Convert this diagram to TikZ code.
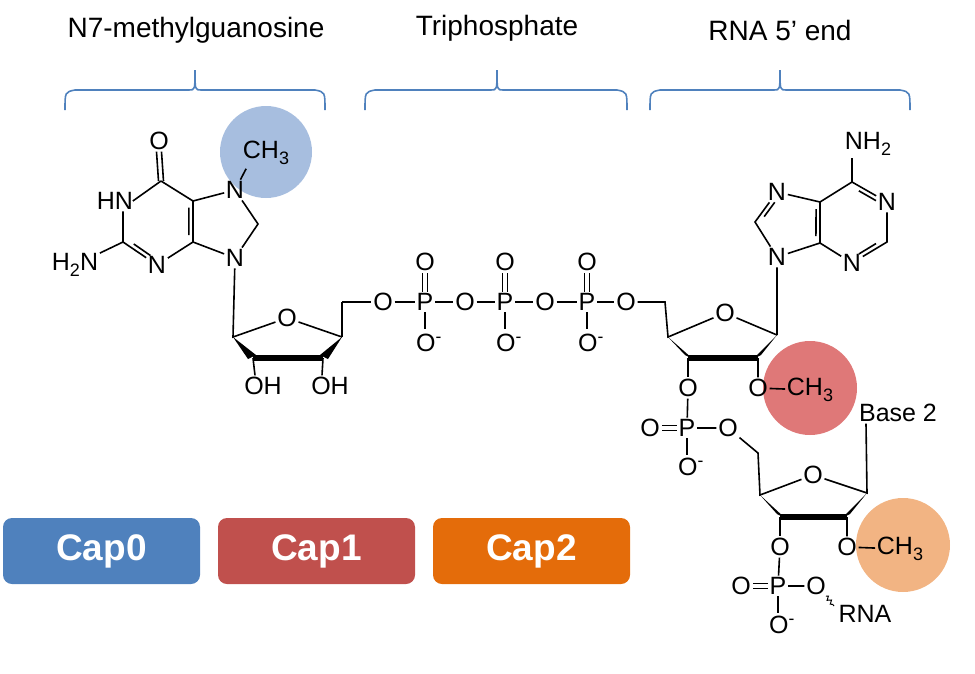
\documentclass[tikz,border=0pt]{standalone}
\usepackage{fontspec}
\setmainfont{Liberation Sans}
\usetikzlibrary{calc,decorations.pathmorphing}
\definecolor{capA}{HTML}{4F81BD}
\definecolor{capB}{HTML}{C0504D}
\definecolor{capC}{HTML}{E46C0A}
\definecolor{cirA}{HTML}{A7BEDF}
\definecolor{cirB}{HTML}{DF7878}
\definecolor{cirC}{HTML}{F2B483}
\definecolor{brc}{HTML}{4F81BD}
\newcommand{\dbl}[3]{\draw ($ ($(#1)!.22!(#2)$)!4.5pt!(#3) $) -- ($ ($(#1)!.78!(#2)$)!4.5pt!(#3) $);}
\newcommand{\dblc}[3]{\draw ($ ($(#1)!.12!(#2)$)!4.5pt!(#3) $) -- ($ ($(#1)!.88!(#2)$)!4.5pt!(#3) $);}
\newcommand{\sub}[1]{\raisebox{-0.25em}{\fontsize{18}{18}\selectfont #1}}
\newcommand{\minus}{\textsuperscript{-}}
\begin{document}
\begin{tikzpicture}[x=1pt,y=-1pt,line width=1.6pt,
 atm/.style={inner sep=1pt,font=\fontsize{25}{25}\selectfont},
 ttl/.style={font=\fontsize{28}{28}\selectfont},
 capbox/.style={rounded corners=9pt,minimum width=197pt,minimum height=66pt,text=white,font=\fontsize{37}{37}\selectfont\bfseries,inner sep=0pt},
 brace/.style={brc,line width=1.6pt},
 wedge/.style={fill=black,draw=none},
 pb/.style={line width=5.5pt}]
\useasboundingbox (0,0) rectangle (975,673);
% circles
\fill[cirA] (266,152) circle (46);
\fill[cirB] (810,388) circle (47);
\fill[cirC] (903,545) circle (47);
% titles and braces
\node[ttl] (t1) at (196,30) {N7-methylguanosine};
\node[ttl] (t2) at (497,28) {Triphosphate};
\node[ttl] (t3) at (780,30) {RNA 5’ end};
\foreach \l/\c/\r in {65/195/325,365/497/627,650/780/910}{
 \draw[brace] (\l,110) .. controls (\l,92) .. (\l+10,90) -- (\c-6,90) .. controls (\c,90) .. (\c,70) .. controls (\c,90) .. (\c+6,90) -- (\r-10,90) .. controls (\r,92) .. (\r,110);}
% cap boxes
\node[capbox,fill=capA] (c0) at (101.5,551) {Cap0};
\node[capbox,fill=capB] (c1) at (316.5,551) {Cap1};
\node[capbox,fill=capC] (c2) at (531.5,551) {Cap2};
% guanine
\node[atm] (gO) at (159,141) {O};
\coordinate (gC6) at (161,181);
\node[atm] (gN1) at (115,201) {HN};
\coordinate (gC2) at (123,242);
\node[atm] (gNH) at (75,265) {H\sub{2}N};
\node[atm] (gN3) at (157,265) {N};
\coordinate (gC4) at (193,242);
\coordinate (gC5) at (193,201);
\node[atm] (gN7) at (235,190) {N};
\coordinate (gC8) at (258,224);
\node[atm] (gN9) at (235,258) {N};
\node[atm] (gMe) at (266,153) {CH\sub{3}};
\coordinate (gc) at (158,221);
\draw ($(gC6)+(-2.5,0)$) -- ($(gO.south)+(-2.5,0)$);
\draw ($(gC6)+(2.5,0)$) -- ($(gO.south)+(2.5,0)$);
\draw (gC6) -- ($(gN1.east)+(-2,0)$);
\draw ($(gN1.south)+(8,0)$) -- (gC2) -- (gNH) ;
\draw (gC2) -- (gN3) -- (gC4) -- (gC5) -- (gC6);
\dbl{gC2}{gN3}{gc}
\dblc{gC4}{gC5}{gc}
\draw (gC5) -- (gN7) -- (gC8) -- (gN9) -- (gC4);
\draw (gN7) -- ($(gMe.south west)+(5,2)$);
% ribose 1
\coordinate (r1C1) at (233,337);
\node[atm] (r1O) at (287,318) {O};
\coordinate (r1C4) at (342,337);
\coordinate (r1C3) at (323,358);
\coordinate (r1C2) at (253,358);
\coordinate (r1C5) at (342,302);
\node[atm] (r1OH2) at (263,386) {OH};
\node[atm] (r1OH3) at (330,386) {OH};
\draw (gN9) -- (r1C1) -- (r1O) -- (r1C4);
\fill[wedge] (r1C1) -- ($(r1C2)+(-5,1)$) -- ($(r1C2)+(3,-3)$) -- cycle;
\fill[wedge] (r1C4) -- ($(r1C3)+(5,1)$) -- ($(r1C3)+(-3,-3)$) -- cycle;
\draw[pb] (r1C2) -- (r1C3);
\draw (r1C2) -- ($(r1OH2.north)+(-8,0)$);
\draw (r1C3) -- ($(r1OH3.north)+(-8,0)$);
\draw (r1C4) -- (r1C5);
% triphosphate
\node[atm] (pO1) at (383,302) {O};
\node[atm] (pP1) at (425,302) {P};
\node[atm] (pO2) at (465,302) {O};
\node[atm] (pP2) at (505,302) {P};
\node[atm] (pO3) at (545,302) {O};
\node[atm] (pP3) at (587,302) {P};
\node[atm] (pO4) at (626,302) {O};
\foreach \p in {1,2,3}{
 \node[atm] (pT\p) at ($(pP\p)+(0,-40)$) {O};
 \node[atm] (pB\p) at ($(pP\p)+(4,41)$) {O\minus};
 \draw ($(pP\p.north)+(-2.5,0)$) -- ($(pT\p.south)+(-2.5,0)$);
 \draw ($(pP\p.north)+(2.5,0)$) -- ($(pT\p.south)+(2.5,0)$);
 \draw (pP\p) -- ($(pP\p)+(0,27)$);}
\draw (r1C5) -- (pO1) -- (pP1) -- (pO2) -- (pP2) -- (pO3) -- (pP3) -- (pO4);
% ribose 2
\coordinate (r2C5) at (665,302);
\coordinate (r2C4) at (668,337);
\node[atm] (r2O) at (725,313) {O};
\coordinate (r2C1) at (777,335);
\coordinate (r2C2) at (758,358);
\coordinate (r2C3) at (688,358);
\draw (pO4) -- (r2C5) -- (r2C4) -- (r2O) -- (r2C1);
\fill[wedge] (r2C4) -- ($(r2C3)+(5,1)$) -- ($(r2C3)+(-3,-3)$) -- cycle;
\fill[wedge] (r2C1) -- ($(r2C2)+(-5,1)$) -- ($(r2C2)+(3,-3)$) -- cycle;
\draw[pb] (r2C3) -- (r2C2);
% adenine
\node[atm] (aN9) at (777,257) {N};
\coordinate (aC8) at (755,222);
\node[atm] (aN7) at (777,192) {N};
\coordinate (aC5) at (820,202);
\coordinate (aC4) at (820,243);
\node[atm] (aN3) at (852,263) {N};
\coordinate (aC2) at (887,242);
\node[atm] (aN1) at (887,202) {N};
\coordinate (aC6) at (852,182);
\node[atm] (aNH) at (868,144) {NH\sub{2}};
\coordinate (ac6) at (853,222);
\coordinate (ac5) at (790,224);
\draw (r2C1) -- (aN9) -- (aC8) -- (aN7) -- (aC5) -- (aC4) -- (aN9);
\draw (aC5) -- (aC6) -- (aN1) -- (aC2) -- (aN3) -- (aC4);
\draw (aC6) -- ($(aNH.south)+(-16,0)$);
\dbl{aC8}{aN7}{ac5}
\dbl{aC6}{aN1}{ac6}
\dbl{aC2}{aN3}{ac6}
\dblc{aC5}{aC4}{ac5}
% 2'-O-Me and 3'-phosphate
\node[atm] (r2O2) at (758,388) {O};
\node[atm] (r2Me) at (810,390) {CH\sub{3}};
\node[atm] (r2O3) at (688,388) {O};
\draw (r2C2) -- (r2O2) -- (r2Me);
\draw (r2C3) -- (r2O3);
\node[atm] (qP) at (687,428) {P};
\node[atm] (qO1) at (650,428) {O};
\node[atm] (qO2) at (728,428) {O};
\node[atm] (qOm) at (691,467) {O\minus};
\draw (r2O3) -- (qP) -- (qO2);
\draw ($(qP.west)+(0,-2.5)$) -- ($(qO1.east)+(0,-2.5)$);
\draw ($(qP.west)+(0,2.5)$) -- ($(qO1.east)+(0,2.5)$);
\draw (qP) -- ($(qP)+(0,27)$);
% ribose 3
\coordinate (r3C5) at (758,453);
\coordinate (r3C4) at (760,495);
\node[atm] (r3O) at (813,475) {O};
\coordinate (r3C1) at (867,493);
\coordinate (r3C2) at (847,517);
\coordinate (r3C3) at (780,517);
\node[atm] (base) at (898,413) {Base 2};
\draw (qO2) -- (r3C5) -- (r3C4) -- (r3O) -- (r3C1) -- ($(base.south)+(-32,0)$);
\fill[wedge] (r3C4) -- ($(r3C3)+(5,1)$) -- ($(r3C3)+(-3,-3)$) -- cycle;
\fill[wedge] (r3C1) -- ($(r3C2)+(-5,1)$) -- ($(r3C2)+(3,-3)$) -- cycle;
\draw[pb] (r3C3) -- (r3C2);
\node[atm] (r3O2) at (847,547) {O};
\node[atm] (r3Me) at (900,549) {CH\sub{3}};
\node[atm] (r3O3) at (780,547) {O};
\draw (r3C2) -- (r3O2) -- (r3Me);
\draw (r3C3) -- (r3O3);
\node[atm] (sP) at (778,586) {P};
\node[atm] (sO1) at (741,586) {O};
\node[atm] (sO2) at (816,586) {O};
\node[atm] (sOm) at (782,625) {O\minus};
\node[atm] (rna) at (865,614) {RNA};
\coordinate (wa) at (826,596);
\coordinate (wv) at (834,606);
\draw (r3O3) -- (sP) -- (sO2);
\draw ($(sP.west)+(0,-2.5)$) -- ($(sO1.east)+(0,-2.5)$);
\draw ($(sP.west)+(0,2.5)$) -- ($(sO1.east)+(0,2.5)$);
\draw (sP) -- ($(sP)+(0,27)$);
\draw[line width=1pt,decorate,decoration={snake,amplitude=1.8pt,segment length=5pt}] (wa) -- (wv);
\end{tikzpicture}
\end{document}
